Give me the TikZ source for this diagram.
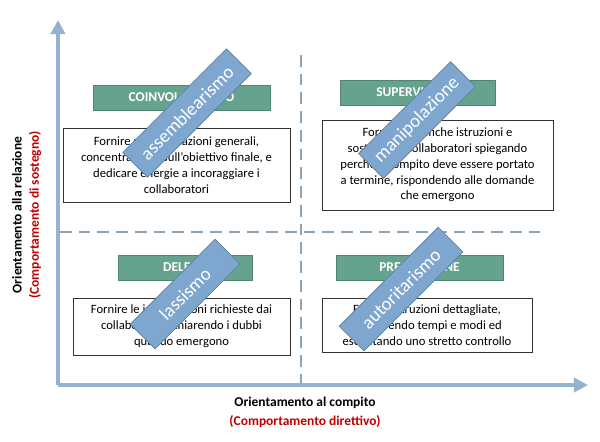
\documentclass[tikz,border=0pt]{standalone}
\usepackage{fontspec}
\setmainfont{Carlito}
\usetikzlibrary{arrows.meta}
\definecolor{axiscol}{HTML}{93B3D0}
\definecolor{dashcol}{HTML}{8DA3B8}
\definecolor{hdrcol}{HTML}{66A38F}
\definecolor{bancol}{HTML}{7FA6CE}
\definecolor{banb}{HTML}{5A7FA8}
\definecolor{lblcol}{HTML}{C00000}
\begin{document}
\begin{tikzpicture}[x=0.03cm,y=-0.03cm,
  hdr/.style={fill=hdrcol,draw=hdrcol!80!black,text=white,font=\bfseries\fontsize{11.5}{12}\selectfont,inner sep=0pt},
  txt/.style={draw=black!80,fill=white,line width=0.6pt,align=center,font=\fontsize{10.8}{13.5}\selectfont,inner sep=0pt},
  ban/.style={fill=bancol,draw=banb,line width=0.6pt,text=white,rotate=45,minimum height=1.05cm,font=\fontsize{16}{17}\selectfont,inner sep=0pt},
  dsh/.style={draw=dashcol,line width=2.2pt,dash pattern=on 10pt off 6pt}]
\useasboundingbox (0,0) rectangle (600,441);
\fill[white] (0,0) rectangle (600,441);
% dashed grid
\coordinate (vt) at (301,55); \coordinate (vb) at (301,385);
\coordinate (hl) at (60,232); \coordinate (hr) at (545,232);
\draw[dsh] (vt) -- (vb);
\draw[dsh] (hl) -- (hr);
% axes
\coordinate (o) at (58,385); \coordinate (yt) at (58,20); \coordinate (xr) at (588,385);
\draw[axiscol,line width=3pt,-{Triangle[length=12pt,width=12pt]}] (o) -- (yt);
\draw[axiscol,line width=3pt,-{Triangle[length=12pt,width=12pt]}] (o) -- (xr);
% headers
\node[hdr,minimum width=177*0.03cm,minimum height=25*0.03cm] (h1) at (181.5,97.5) {COINVOLGIMENTO};
\node[hdr,minimum width=155*0.03cm,minimum height=25*0.03cm] (h2) at (417.5,92.5) {SUPERVISIONE};
\node[hdr,minimum width=134*0.03cm,minimum height=25*0.03cm] (h3) at (185,267.5) {DELEGA};
\node[hdr,minimum width=167*0.03cm,minimum height=25*0.03cm] (h4) at (419.5,267.5) {PRESCRIZIONE};
% text boxes
\node[txt,minimum width=227*0.03cm,minimum height=74*0.03cm] (t1) at (176.5,165) {Fornire solo indicazioni generali,\\concentrandosi sull’obiettivo finale, e\\dedicare energie a incoraggiare i\\collaboratori};
\node[txt,minimum width=231*0.03cm,minimum height=90*0.03cm] (t2) at (437.5,165) {Fornire specifiche istruzioni e\\sostenere i collaboratori spiegando\\perché il compito deve essere portato\\a termine, rispondendo alle domande\\che emergono};
\node[txt,minimum width=217*0.03cm,minimum height=57*0.03cm] (t3) at (181.5,326.5) {Fornire le informazioni richieste dai\\collaboratori, chiarendo i dubbi\\quando emergono};
\node[txt,minimum width=210*0.03cm,minimum height=54*0.03cm] (t4) at (427,325) {Fornire istruzioni dettagliate,\\descrivendo tempi e modi ed\\esercitando uno stretto controllo};
% banners
\node[ban,minimum width=4.4cm] (b1) at (187,113) {assemblearismo};
\node[ban,minimum width=3.9cm] (b2) at (417,120) {manipolazione};
\node[ban,minimum width=3.6cm] (b3) at (185,294) {lassismo};
\node[ban,minimum width=4.2cm] (b4) at (401,289) {autoritarismo};
% axis labels
\node[rotate=90,font=\bfseries\fontsize{11.5}{12}\selectfont] (ly1) at (17,215) {Orientamento alla relazione};
\node[rotate=90,text=lblcol,font=\bfseries\fontsize{11.5}{12}\selectfont] (ly2) at (35,215) {(Comportamento di sostegno)};
\node[font=\bfseries\fontsize{11.5}{12}\selectfont] (lx1) at (305,403) {Orientamento al compito};
\node[text=lblcol,font=\bfseries\fontsize{11.5}{12}\selectfont] (lx2) at (305,422) {(Comportamento direttivo)};
\end{tikzpicture}
\end{document}
